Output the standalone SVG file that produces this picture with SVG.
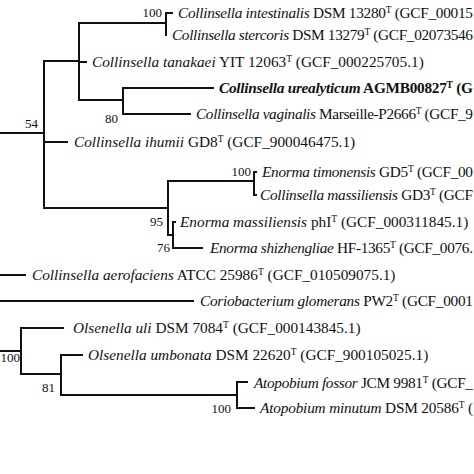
<svg xmlns="http://www.w3.org/2000/svg" width="474" height="474" viewBox="0 0 474 474">
<style>
.bg{fill:#fff}
.br{fill:none;stroke:#111;stroke-width:2;stroke-linecap:square}
text{font-family:"Liberation Serif","Times New Roman",serif;fill:#111}
.lab{font-size:15.3px}
.i{font-style:italic}
.b{font-weight:bold}
.sup{font-size:9.5px}
.bs{font-size:13px;text-anchor:end}
</style>
<rect class="bg" x="0" y="0" width="474" height="474"/>
<g id="connectors">
<path class="br" d="M0,133H44M44,61V208M44,61H79M79,23V100M79,23H166M166,13V35M166,13H172M79,62H86M79,100H123M123,88V114M123,88H213M123,114H190M44,142H67M44,208H168M168,181V235M168,181H254M254,172V195M254,172H256M254,195H256M168,235H173M173,222V248M173,222H175M173,248H202"/>
<path class="br" d="M0,275H25M0,301H193M0,351H21M21,328V374M21,328H63M21,374H61M61,355V395M61,355H82M61,395H237M237,382V408M237,382H247M237,408H254"/>
</g>
<g id="bootstrap">
<text class="bs" x="162" y="17">100</text>
<text class="bs" x="118" y="123">80</text>
<text class="bs" x="38" y="128">54</text>
<text class="bs" x="251" y="176">100</text>
<text class="bs" x="163" y="226">95</text>
<text class="bs" x="170" y="252">76</text>
<text class="bs" x="20" y="362">100</text>
<text class="bs" x="55" y="392">81</text>
<text class="bs" x="231" y="413">100</text>
</g>
<g id="n1"><text class="lab" x="178" y="18" textLength="295" lengthAdjust="spacing"><tspan class="i">Collinsella intestinalis</tspan> DSM 13280<tspan class="sup" dy="-5">T</tspan><tspan dy="5"> (GCF_00015</tspan></text></g>
<g id="n2"><text class="lab" x="172" y="40" textLength="301" lengthAdjust="spacing"><tspan class="i">Collinsella stercoris</tspan> DSM 13279<tspan class="sup" dy="-5">T</tspan><tspan dy="5"> (GCF_02073546</tspan></text></g>
<g id="n3"><text class="lab" x="92" y="67"><tspan class="i">Collinsella tanakaei</tspan> YIT 12063<tspan class="sup" dy="-5">T</tspan><tspan dy="5"> (GCF_000225705.1)</tspan></text></g>
<g id="n4"><text class="lab b" x="219" y="93" textLength="254" lengthAdjust="spacing"><tspan class="i">Collinsella urealyticum</tspan> AGMB00827<tspan class="sup" dy="-5">T</tspan><tspan dy="5"> (G</tspan></text></g>
<g id="n5"><text class="lab" x="196" y="119" textLength="277" lengthAdjust="spacing"><tspan class="i">Collinsella vaginalis</tspan> Marseille-P2666<tspan class="sup" dy="-5">T</tspan><tspan dy="5"> (GCF_9</tspan></text></g>
<g id="n6"><text class="lab" x="74" y="147"><tspan class="i">Collinsella ihumii</tspan> GD8<tspan class="sup" dy="-5">T</tspan><tspan dy="5"> (GCF_900046475.1)</tspan></text></g>
<g id="n7"><text class="lab" x="262" y="177" textLength="211" lengthAdjust="spacing"><tspan class="i">Enorma timonensis</tspan> GD5<tspan class="sup" dy="-5">T</tspan><tspan dy="5"> (GCF_00</tspan></text></g>
<g id="n8"><text class="lab" x="260" y="200" textLength="213" lengthAdjust="spacing"><tspan class="i">Collinsella massiliensis</tspan> GD3<tspan class="sup" dy="-5">T</tspan><tspan dy="5"> (GCF</tspan></text></g>
<g id="n9"><text class="lab" x="180" y="227"><tspan class="i">Enorma massiliensis</tspan> phI<tspan class="sup" dy="-5">T</tspan><tspan dy="5"> (GCF_000311845.1)</tspan></text></g>
<g id="n10"><text class="lab" x="210" y="253" textLength="263" lengthAdjust="spacing"><tspan class="i">Enorma shizhengliae</tspan> HF-1365<tspan class="sup" dy="-5">T</tspan><tspan dy="5"> (GCF_0076.</tspan></text></g>
<g id="n11"><text class="lab" x="32" y="280"><tspan class="i">Collinsella aerofaciens</tspan> ATCC 25986<tspan class="sup" dy="-5">T</tspan><tspan dy="5"> (GCF_010509075.1)</tspan></text></g>
<g id="n12"><text class="lab" x="200" y="306" textLength="273" lengthAdjust="spacing"><tspan class="i">Coriobacterium glomerans</tspan> PW2<tspan class="sup" dy="-5">T</tspan><tspan dy="5"> (GCF_0001</tspan></text></g>
<g id="n13"><text class="lab" x="73" y="333"><tspan class="i">Olsenella uli</tspan> DSM 7084<tspan class="sup" dy="-5">T</tspan><tspan dy="5"> (GCF_000143845.1)</tspan></text></g>
<g id="n14"><text class="lab" x="88" y="360"><tspan class="i">Olsenella umbonata</tspan> DSM 22620<tspan class="sup" dy="-5">T</tspan><tspan dy="5"> (GCF_900105025.1)</tspan></text></g>
<g id="n15"><text class="lab" x="254" y="388" textLength="219" lengthAdjust="spacing"><tspan class="i">Atopobium fossor</tspan> JCM 9981<tspan class="sup" dy="-5">T</tspan><tspan dy="5"> (GCF_</tspan></text></g>
<g id="n16"><text class="lab" x="260" y="413" textLength="213" lengthAdjust="spacing"><tspan class="i">Atopobium minutum</tspan> DSM 20586<tspan class="sup" dy="-5">T</tspan><tspan dy="5"> (</tspan></text></g>
</svg>
